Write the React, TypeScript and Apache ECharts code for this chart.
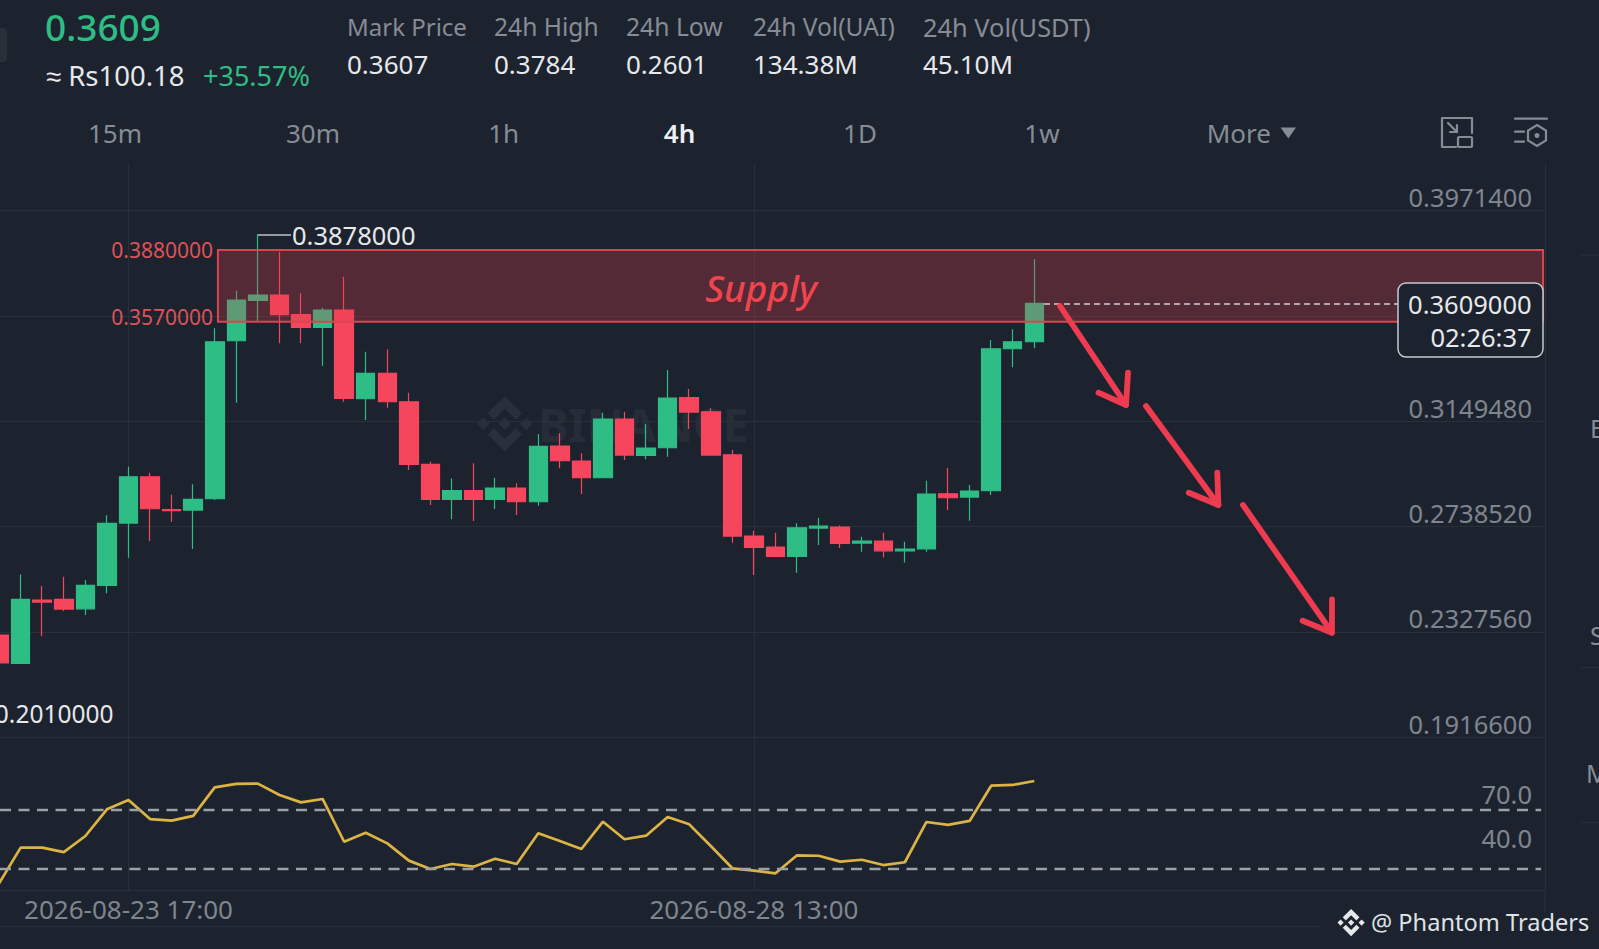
import React, { useEffect, useRef } from "react";
import * as echarts from "echarts";

const BINANCE_D =
  "m38.73 53.2 24.59-24.58 24.6 24.6 14.3-14.31L63.32 0 24.43 38.9zM0 63.31l14.3-14.31 14.31 14.31-14.31 14.3zm38.73 10.11 24.59 24.59 24.6-24.6 14.31 14.29-38.9 38.91-38.91-38.88zm59.27-10.1 14.3-14.31 14.31 14.3-14.31 14.31zM77.83 63.3 63.32 48.78 52.59 59.51l-1.24 1.23-2.54 2.54 14.51 14.5 14.51-14.47z";
echarts.graphic.registerShape("binanceLogo", echarts.graphic.extendPath(BINANCE_D, {}) as any);

// ---------- data ----------
const opens = [
  0.23154, 0.2205, 0.2452, 0.24547, 0.24181, 0.25094, 0.27525, 0.29332, 0.28052, 0.28033, 0.28474, 0.3464, 0.36217,
  0.36424, 0.35655, 0.35163, 0.35838, 0.32377, 0.33368, 0.32259, 0.29816, 0.2845, 0.28794, 0.2845, 0.28891, 0.28357,
  0.30531, 0.29945, 0.29293, 0.31584, 0.30168, 0.30464, 0.32423, 0.31869, 0.30191, 0.27018, 0.26589, 0.26226, 0.2733,
  0.27369, 0.26745, 0.26823, 0.26444, 0.26522, 0.28669, 0.2854, 0.28786, 0.34328, 0.34601,
];
const closes = [
  0.22073, 0.24547, 0.24442, 0.24169, 0.25094, 0.27514, 0.29332, 0.28083, 0.28013, 0.2845, 0.34601, 0.36229, 0.36424,
  0.35655, 0.35163, 0.35838, 0.32392, 0.33368, 0.32259, 0.29816, 0.2845, 0.28794, 0.2845, 0.28891, 0.28357, 0.30519,
  0.29957, 0.29293, 0.31584, 0.30179, 0.30452, 0.32404, 0.31857, 0.30179, 0.27018, 0.26577, 0.26226, 0.27342, 0.27408,
  0.26733, 0.26823, 0.26444, 0.26511, 0.28657, 0.28513, 0.28774, 0.34328, 0.34601, 0.361,
];
const lows = [
  0.21788, 0.22022, 0.23115, 0.24091, 0.23935, 0.24782, 0.26171, 0.26823, 0.27576, 0.26511, 0.28423, 0.3222, 0.35382,
  0.34539, 0.34539, 0.33664, 0.32259, 0.31545, 0.32025, 0.29594, 0.28228, 0.2767, 0.27603, 0.28072, 0.27838, 0.28201,
  0.2966, 0.28657, 0.2927, 0.29984, 0.30012, 0.30113, 0.31194, 0.30152, 0.26757, 0.25496, 0.26198, 0.25586, 0.26667,
  0.2655, 0.26405, 0.26187, 0.25991, 0.26405, 0.28033, 0.27615, 0.28618, 0.33602, 0.34344,
];
const highs = [
  0.23427, 0.25523, 0.25067, 0.2543, 0.25301, 0.27826, 0.29723, 0.29488, 0.2863, 0.29036, 0.35124, 0.36592, 0.38793,
  0.38114, 0.3649, 0.35928, 0.37138, 0.34211, 0.34304, 0.32611, 0.29918, 0.29262, 0.29855, 0.29293, 0.29075, 0.30999,
  0.31026, 0.30246, 0.3183, 0.31869, 0.31377, 0.33497, 0.32755, 0.32002, 0.30374, 0.27225, 0.27147, 0.27514, 0.27732,
  0.27435, 0.26991, 0.27147, 0.26796, 0.29176, 0.29672, 0.29008, 0.34667, 0.35085, 0.37829,
];
const rsiValues = [
  19.8, 44.0, 44.0, 41.0, 51.9, 70.0, 76.3, 63.4, 62.3, 65.5, 84.9, 87.2, 87.4, 79.7, 74.7, 77.0, 48.0, 54.1, 46.9, 35.2,
  29.5, 32.9, 31.1, 36.5, 32.9, 53.7, 48.5, 43.1, 61.6, 49.7, 52.1, 64.8, 59.8, 45.1, 30.0, 28.4, 26.6, 38.8, 38.5, 34.5,
  35.8, 32.2, 34.1, 61.4, 59.4, 62.1, 86.0, 86.5, 89.2,
];
const priceGridTicks = [0.19166, 0.232756, 0.273852, 0.314948, 0.356044, 0.39714];
const priceLabelTicks = [0.19166, 0.232756, 0.273852, 0.314948, 0.39714];
const rsiTicks = [70, 40];
const rsiBands = [70, 30];
const timeTicks = [6, 35];
const timeLabels = ["2026-08-23 17:00", "2026-08-28 13:00"];
const supplyTop = 0.3818;
const supplyBottom = 0.35382;
const lastPrice = 0.3609;
const swingHigh = 0.3878;
const statTitles = ["Mark Price", "24h High", "24h Low", "24h Vol(UAI)", "24h Vol(USDT)"];
const statValues = ["0.3607", "0.3784", "0.2601", "134.38M", "45.10M"];
const tabs = ["15m", "30m", "1h", "4h", "1D", "1w", "More"];

// ---------- style ----------
const BG = "#1d232e";
const GREEN = "#2ebd85";
const RED = "#f6465d";
const GRID = "#2a303a";
const GRAY = "#868c96";
const AXIS_TXT = "#7f858f";
const WHITE = "#e6e8eb";
const FONT = '"Noto Sans", sans-serif';
const X_MIN = 0.0417;
const X_MAX = 71.68;

const txt = (x: number, y: number, text: string, size: number, fill: string, align = "left", weight = "normal", z = 50, slant = "") => ({
  type: "text",
  z,
  silent: true,
  x,
  y,
  style: {
    text,
    fill,
    font: `${slant} ${weight} ${size}px ${FONT}`.trim(),
    align,
    verticalAlign: "middle",
    textAlign: align,
    textVerticalAlign: "middle",
  },
});
const pl = (points: number[][], stroke: string, lineWidth: number, z = 50, extra: any = {}) => ({
  type: "polyline",
  z,
  silent: true,
  shape: { points },
  style: { stroke, lineWidth, fill: "none", lineCap: "round", lineJoin: "round", ...extra },
});
const arrow = (from: number[], tip: number[], h1: number[], h2: number[]) => [
  pl([from, tip], "#ef3b50", 5.8, 60),
  pl([h1, tip, h2], "#ef3b50", 5.8, 60),
];

const statX = [347, 494, 626, 753, 923];
const statTitleSize = [24, 24.6, 24.7, 24.6, 25.4];
const tabX = [115, 313, 503.6, 679.6, 860, 1042, 1238.8];

const graphics: any[] = [
  { type: "rect", z: 50, silent: true, shape: { x: -6, y: 28, width: 13, height: 34, r: 4 }, style: { fill: "#2a303a" } },
  txt(45, 26.5, "0.3609", 37, GREEN, "left", "500"),
  txt(46, 75, "≈ Rs100.18", 27.5, WHITE),
  txt(203, 75, "+35.57%", 27, GREEN),
  ...statTitles.map((t, i) => txt(statX[i], 26.7, t, statTitleSize[i], GRAY)),
  ...statValues.map((t, i) => txt(statX[i], 64, t, 26, WHITE)),
  ...tabs.map((t, i) => txt(tabX[i], 133, t, 26, t === "4h" ? "#eef0f2" : GRAY, "center", t === "4h" ? "600" : "normal")),
  { type: "polygon", z: 50, silent: true, shape: { points: [[1280.6, 127.5], [1296, 127.5], [1288.3, 138.5]] }, style: { fill: GRAY } },
  pl([[1472, 133], [1472, 118], [1442, 118], [1442, 147], [1456, 147]], GRAY, 2.2),
  { type: "rect", z: 50, silent: true, shape: { x: 1458, y: 137, width: 14, height: 10, r: 1 }, style: { stroke: GRAY, lineWidth: 2.2, fill: "none" } },
  pl([[1448, 123], [1457, 132]], GRAY, 2.2),
  pl([[1457, 125], [1457, 132], [1450, 132]], GRAY, 2.2),
  pl([[1515, 118.7], [1547, 118.7]], GRAY, 2.2),
  pl([[1515, 131.7], [1524, 131.7]], GRAY, 2.2),
  pl([[1515, 141.7], [1524, 141.7]], GRAY, 2.2),
  { type: "polygon", z: 50, silent: true, shape: { points: [[1537, 125], [1546, 130.5], [1546, 140.5], [1537, 146], [1528, 140.5], [1528, 130.5]] }, style: { stroke: GRAY, lineWidth: 2.2, fill: "none" } },
  { type: "circle", z: 50, silent: true, shape: { cx: 1537, cy: 135.5, r: 2.5 }, style: { fill: GRAY } },
  // watermark behind the candles
  { type: "binanceLogo", z: 0, silent: true, x: 477, y: 396, scaleX: 0.44, scaleY: 0.44, style: { fill: "#2a303b" } },
  txt(538, 424, "BINANCE", 46, "#272d38", "left", "700", 0),
  // zone annotations
  txt(213, 250, "0.3880000", 21, "#dd5259", "right"),
  txt(213, 316.7, "0.3570000", 21, "#dd5259", "right"),
  txt(761, 287, "Supply", 37, "#f0444f", "center", "500", 60, "italic"),
  txt(113.5, 713.3, "0.2010000", 24.5, WHITE, "right"),
  // live price tag
  { type: "rect", z: 70, silent: true, shape: { x: 1398, y: 283, width: 145, height: 74, r: 8 }, style: { fill: BG, stroke: "#c5c9cf", lineWidth: 1.5 } },
  txt(1531.6, 304, "0.3609000", 25.5, WHITE, "right", "normal", 71),
  txt(1531.6, 336.5, "02:26:37", 25.5, WHITE, "right", "normal", 71),
  // arrows
  ...arrow([1060, 306], [1126, 405], [1098.5, 392.7], [1128, 372.7]),
  ...arrow([1146, 406], [1218.4, 505], [1188.8, 492.7], [1217.3, 472.7]),
  ...arrow([1243, 505], [1332, 632.7], [1302.6, 620.7], [1332, 599.3]),
  // frame pieces
  pl([[0, 926.7], [1320, 926.7]], GRID, 1, 1),
  pl([[1545, 890], [1545, 912]], GRID, 1, 1),
  pl([[1580, 255], [1599, 255]], GRID, 1, 1),
  pl([[1580, 667.7], [1599, 667.7]], GRID, 1, 1),
  pl([[1580, 822.7], [1599, 822.7]], GRID, 1, 1),
  txt(1590, 428, "E", 25, GRAY),
  txt(1590, 635, "S", 25, GRAY),
  txt(1586, 773, "M", 25, GRAY),
  // signature
  { type: "binanceLogo", z: 60, silent: true, x: 1337.5, y: 909, scaleX: 0.215, scaleY: 0.215, style: { fill: "#e6e8eb" } },
  txt(1371, 922, "@ Phantom Traders", 23.6, "#dfe2e6"),
];

const option: any = {
  animation: false,
  backgroundColor: BG,
  textStyle: { fontFamily: FONT },
  grid: [
    { left: 0, right: 54, top: 163, height: 574.3, containLabel: false },
    { left: 0, right: 54, top: 737.3, height: 153.4, containLabel: false },
  ],
  xAxis: [0, 1].map((g) => ({
    type: "value",
    gridIndex: g,
    min: X_MIN,
    max: X_MAX,
    axisLine: { show: true, onZero: false, lineStyle: { color: GRID, width: 1 } },
    axisTick: { show: false, customValues: timeTicks },
    splitLine: { show: true, lineStyle: { color: GRID, width: 1 } },
    axisLabel:
      g === 1
        ? {
            show: true,
            customValues: timeTicks,
            color: AXIS_TXT,
            fontSize: 26,
            fontFamily: FONT,
            margin: 5,
            formatter: (v: number) => timeLabels[timeTicks.indexOf(v)] ?? "",
          }
        : { show: false },
  })),
  yAxis: [
    {
      type: "value",
      gridIndex: 0,
      position: "right",
      min: 0.19166,
      max: 0.41575,
      axisLine: { show: true, onZero: false, lineStyle: { color: GRID, width: 1 } },
      axisTick: { show: false, customValues: priceGridTicks },
      splitLine: { show: true, lineStyle: { color: GRID, width: 1 } },
      axisLabel: {
        show: true,
        inside: true,
        customValues: priceLabelTicks,
        margin: 13,
        color: AXIS_TXT,
        fontSize: 25.5,
        fontFamily: FONT,
        align: "right",
        verticalAlign: "bottom",
        lineHeight: 27,
        formatter: (v: number) => v.toFixed(7),
      },
    },
    {
      type: "value",
      gridIndex: 1,
      position: "right",
      min: 14.81,
      max: 118.81,
      axisLine: { show: true, onZero: false, lineStyle: { color: GRID, width: 1 } },
      axisTick: { show: false, customValues: rsiTicks },
      splitLine: { show: false },
      axisLabel: {
        show: true,
        inside: true,
        customValues: rsiTicks,
        margin: 13,
        color: AXIS_TXT,
        fontSize: 25.5,
        fontFamily: FONT,
        align: "right",
        verticalAlign: "bottom",
        lineHeight: 31,
        formatter: (v: number) => v.toFixed(1),
      },
    },
  ],
  series: [
    {
      type: "candlestick",
      xAxisIndex: 0,
      yAxisIndex: 0,
      encode: { x: 0, y: [1, 2, 3, 4] },
      barWidth: 19,
      data: opens.map((o, i) => [i, o, closes[i], lows[i], highs[i]]),
      itemStyle: { color: GREEN, color0: RED, borderColor: GREEN, borderColor0: RED, borderWidth: 1.2 },
      markArea: {
        silent: true,
        z: 5,
        itemStyle: { color: "rgba(225,62,75,0.28)", borderColor: "#d9454f", borderWidth: 2 },
        data: [[{ coord: [10.146, supplyTop] }, { coord: [71.59, supplyBottom] }]],
      },
      markLine: {
        silent: true,
        z: 6,
        symbol: "none",
        data: [
          [
            { coord: [48.45, lastPrice], lineStyle: { color: "#cfd2d6", width: 1.5, type: [6, 4] }, label: { show: false } },
            { coord: [64.87, lastPrice] },
          ],
          [
            {
              coord: [12, swingHigh],
              lineStyle: { color: "#bfc3c8", width: 1.5, type: "solid" },
              label: { show: true, position: "end", distance: 1, formatter: "0.3878000", color: WHITE, fontSize: 25.5, fontFamily: FONT },
            },
            { coord: [13.535, swingHigh] },
          ],
        ],
      },
    },
    {
      type: "line",
      xAxisIndex: 1,
      yAxisIndex: 1,
      symbol: "none",
      data: rsiValues.map((v, i) => [i, v]),
      lineStyle: { color: "#dcb445", width: 2.7 },
      z: 4,
      markLine: {
        silent: true,
        symbol: "none",
        label: { show: false },
        lineStyle: { color: "#9ca0a7", width: 2.4, type: [11, 7.5] },
        data: rsiBands.map((v) => [{ coord: [X_MIN, v] }, { coord: [71.5, v] }]),
      },
    },
  ],
  graphic: graphics,
};

export default function App() {
  const ref = useRef<HTMLDivElement>(null);
  useEffect(() => {
    document.body.style.margin = "0";
    document.body.style.background = BG;
    const chart = echarts.init(ref.current!, undefined, { renderer: "svg" });
    chart.setOption(option);
    return () => chart.dispose();
  }, []);
  return <div ref={ref} style={{ position: "fixed", left: 0, top: 0, width: 1599, height: 949 }} />;
}
